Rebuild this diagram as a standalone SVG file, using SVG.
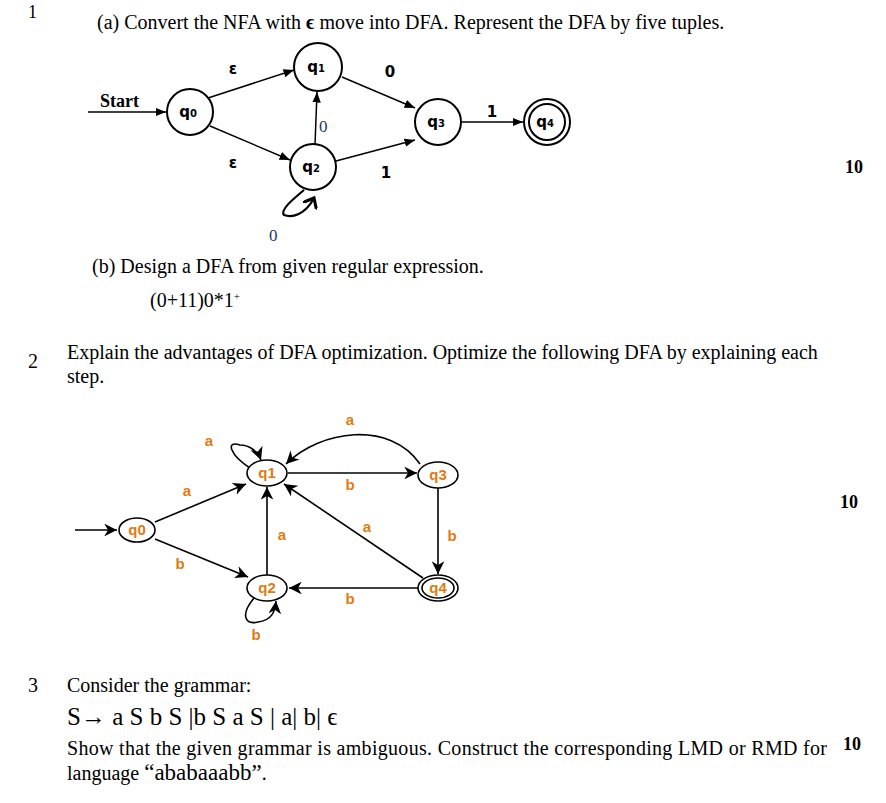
<svg xmlns="http://www.w3.org/2000/svg" width="886" height="803" viewBox="0 0 886 803">
<defs>
<marker id="ah" viewBox="0 0 10 10" refX="10" refY="5" markerWidth="7" markerHeight="7" orient="auto"><path d="M0,1 L10,5 L0,9 z" fill="#000"/></marker>
<marker id="ah2" viewBox="0 0 10 10" refX="10" refY="5" markerWidth="8" markerHeight="8" orient="auto"><path d="M0,0 L10,5 L0,10 L3,5 z" fill="#000"/></marker>
<marker id="ah3" viewBox="0 0 10 10" refX="6" refY="5" markerWidth="7" markerHeight="7" orient="auto"><path d="M0,0 L6,5 L0,10" fill="none" stroke="#000" stroke-width="2"/></marker>
</defs>
<style>
.t{font-family:"Liberation Serif",serif;font-size:20px;fill:#000}
.n{fill:#fff;stroke:#000;stroke-width:2}
.s{font-family:"DejaVu Sans",sans-serif;font-weight:bold;font-size:15px;fill:#000;text-anchor:middle}
.o{font-family:"Liberation Sans",sans-serif;font-weight:bold;font-size:15px;fill:#e07b10;text-anchor:middle}
.e{stroke:#000;stroke-width:1.5;fill:none;marker-end:url(#ah)}
.e2{stroke:#000;stroke-width:1.6;fill:none;marker-end:url(#ah2)}
.n2{fill:#fff;stroke:#000;stroke-width:1.6}
</style>
<rect width="886" height="803" fill="#fff"/>
<text class="t" x="28" y="18" style="font-size:18px">1</text>
<text class="t" x="97" y="29">(a) Convert the NFA with <tspan font-weight="bold">ϵ</tspan> move into DFA. Represent the DFA by five tuples.</text>
<text class="t" x="845" y="173" font-weight="bold" style="font-size:18px">10</text>
<g id="connectors1">
<line class="e" x1="88" y1="112" x2="166" y2="112"/>
<line class="e" x1="208" y1="98" x2="294" y2="70"/>
<line class="e" x1="210" y1="126" x2="290" y2="160"/>
<line class="e" x1="342" y1="77" x2="415" y2="108"/>
<line class="e" x1="336" y1="161" x2="415" y2="140"/>
<line class="e" x1="315" y1="145" x2="317" y2="92"/>
<line class="e" x1="461" y1="122" x2="523" y2="122"/>
<path d="M304,190 C292,200 280,210 284,215 C292,218 305,215 314,198" stroke="#000" stroke-width="2.2" fill="none" marker-end="url(#ah3)"/>
</g>
<text x="100" y="107" style="font-family:'Liberation Serif',serif;font-weight:bold;font-size:18px">Start</text>
<text class="s" x="233" y="74">ε</text>
<text class="s" x="233" y="168">ε</text>
<text class="s" x="390" y="77">0</text>
<text class="s" x="386" y="178">1</text>
<text class="s" x="492" y="117">1</text>
<text class="t" x="319" y="132" style="fill:#1f3a60;font-size:17px">0</text>
<text class="t" x="269" y="241" style="fill:#1f3a60;font-size:17px">0</text>
<g id="q0"><circle class="n" cx="190" cy="112" r="23"/><text class="s" x="188" y="117">q<tspan font-size="10">0</tspan></text></g>
<g id="q1"><circle class="n" cx="318" cy="67" r="24"/><text class="s" x="316" y="72">q<tspan font-size="10">1</tspan></text></g>
<g id="q2"><circle class="n" cx="313" cy="167" r="23"/><text class="s" x="311" y="172">q<tspan font-size="10">2</tspan></text></g>
<g id="q3"><circle class="n" cx="438" cy="122" r="23"/><text class="s" x="436" y="127">q<tspan font-size="10">3</tspan></text></g>
<g id="q4"><circle class="n" cx="547" cy="122" r="23"/><circle class="n" cx="547" cy="122" r="18"/><text class="s" x="545" y="127">q<tspan font-size="10">4</tspan></text></g>
<text class="t" x="92" y="273">(b) Design a DFA from given regular expression.</text>
<text class="t" x="150" y="307">(0+11)0*1<tspan font-size="11" dy="-7">+</tspan></text>
<text class="t" x="28" y="368">2</text>
<text class="t" x="67" y="359">Explain the advantages of DFA optimization. Optimize the following DFA by explaining each</text>
<text class="t" x="67" y="383">step.</text>
<text class="t" x="840" y="508" font-weight="bold" style="font-size:18px">10</text>
<g id="connectors2">
<line class="e2" x1="75" y1="530" x2="117" y2="530"/>
<line class="e2" x1="155" y1="522" x2="246" y2="484"/>
<line class="e2" x1="155" y1="539" x2="248" y2="577"/>
<line class="e2" x1="267" y1="575" x2="267" y2="487"/>
<line class="e2" x1="288" y1="473" x2="417" y2="473"/>
<line class="e2" x1="438" y1="488" x2="438" y2="574"/>
<line class="e2" x1="419" y1="588" x2="289" y2="588"/>
<line class="e2" x1="423" y1="578" x2="284" y2="484"/>
<path class="e2" d="M420,464 C390,420 320,430 286,464"/>
<path class="e2" d="M250,468 C230,455 225,440 240,445 C250,445 258,452 261,460"/>
<path class="e2" d="M254,598 C240,615 245,625 258,622 C272,620 275,612 276,601"/>
</g>
<text class="o" x="350" y="425">a</text>
<text class="o" x="209" y="446">a</text>
<text class="o" x="350" y="490">b</text>
<text class="o" x="187" y="496">a</text>
<text class="o" x="282" y="540">a</text>
<text class="o" x="367" y="532">a</text>
<text class="o" x="452" y="541">b</text>
<text class="o" x="180" y="569">b</text>
<text class="o" x="350" y="604">b</text>
<text class="o" x="256" y="640">b</text>
<g id="p0"><ellipse class="n2" cx="137" cy="530" rx="18" ry="12"/><text class="o" x="137" y="535" font-size="13">q0</text></g>
<g id="p1"><ellipse class="n2" cx="267" cy="473" rx="20" ry="13"/><text class="o" x="267" y="478" font-size="13">q1</text></g>
<g id="p2"><ellipse class="n2" cx="267" cy="588" rx="20" ry="13"/><text class="o" x="267" y="593" font-size="13">q2</text></g>
<g id="p3"><ellipse class="n2" cx="438" cy="475" rx="20" ry="13"/><text class="o" x="438" y="480" font-size="13">q3</text></g>
<g id="p4"><ellipse class="n2" cx="438" cy="588" rx="20" ry="13"/><ellipse class="n2" cx="438" cy="588" rx="16" ry="10"/><text class="o" x="438" y="593" font-size="13">q4</text></g>
<text class="t" x="28" y="692">3</text>
<text class="t" x="67" y="692">Consider the grammar:</text>
<text class="t" x="67" y="725" style="font-size:25px">S→ a S b S |b S a S | a| b| ϵ</text>
<text class="t" x="67" y="755" textLength="760">Show that the given grammar is ambiguous. Construct the corresponding LMD or RMD for</text>
<text class="t" x="843" y="750" font-weight="bold" style="font-size:18px">10</text>
<text class="t" x="67" y="780">language <tspan style="font-size:23px">“ababaaabb”</tspan>.</text>
</svg>
